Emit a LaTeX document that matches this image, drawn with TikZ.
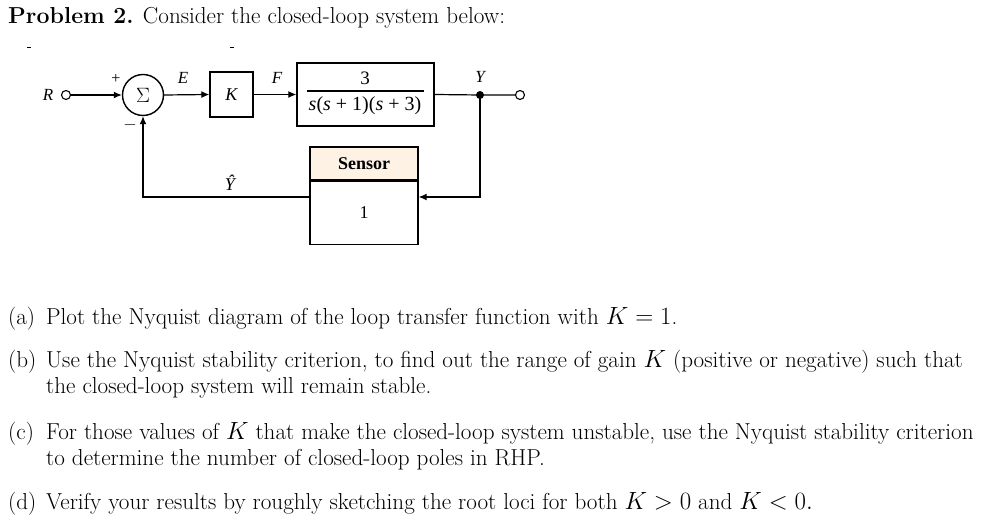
\documentclass[tikz,border=0pt]{standalone}
\usepackage{fontspec}
\newfontfamily\dia{Liberation Serif}
\usetikzlibrary{arrows.meta}
\begin{document}
\begin{tikzpicture}[x=1pt,y=-1pt,
  txt/.style={anchor=base west,inner sep=0pt,font=\fontsize{23.1}{27}\selectfont},
  blk/.style={draw,line width=1.4pt,inner sep=0pt},
  lab/.style={font=\dia\itshape\fontsize{17}{18}\selectfont,inner sep=0pt},
  sig/.style={line width=1.2pt,-{Latex[length=8pt,width=7pt]}},
  wire/.style={line width=1.2pt}]
\useasboundingbox (0,0) rectangle (991,526);
\node[txt] (t0) at (8,24) {\textbf{Problem 2.} Consider the closed-loop system below:};
\node[txt] (la) at (8,325) {(a)};
\node[txt] (ta) at (46,325) {Plot the Nyquist diagram of the loop transfer function with $K=1$.};
\node[txt] (lb) at (8,368) {(b)};
\node[txt] (tb) at (46,368) {Use the Nyquist stability criterion, to find out the range of gain $K$ (positive or negative) such that};
\node[txt] (tb2) at (46,394) {the closed-loop system will remain stable.};
\node[txt] (lc) at (8,439) {(c)};
\node[txt] (tc) at (46,439) {For those values of $K$ that make the closed-loop system unstable, use the Nyquist stability criterion};
\node[txt] (tc2) at (46,465) {to determine the number of closed-loop poles in RHP.};
\node[txt] (ld) at (8,509) {(d)};
\node[txt] (td) at (46,509) {Verify your results by roughly sketching the root loci for both $K>0$ and $K<0.$};
% diagram
\draw[line width=1pt] (27,48)--(31,48) (230,48)--(234,48);
\node[lab] (R) at (48,95) {R};
\node[draw,circle,minimum size=9pt,inner sep=0pt,line width=1.1pt] (rin) at (66,95) {};
\node[draw,circle,minimum size=41pt,inner sep=0pt,line width=1.4pt,font=\fontsize{20}{22}\selectfont] (sum) at (143,95) {$\Sigma$};
\node[lab,font=\dia\fontsize{16}{16}\selectfont] (plus) at (116,79) {+};
\node[lab,font=\fontsize{16}{16}\selectfont] (minus) at (130,125) {$-$};
\node[blk,minimum width=43pt,minimum height=45pt,font=\dia\itshape\fontsize{18}{18}\selectfont] (K) at (231.5,94.5) {K};
\node[blk,minimum width=137pt,minimum height=63pt] (G) at (365.5,94.5) {};
\node[inner sep=0pt,font=\dia\fontsize{19}{19}\selectfont] (num) at (365,78) {3};
\draw[wire] (307,91)--(424,91);
\node[inner sep=0pt,font=\dia\fontsize{20}{20}\selectfont] (den) at (365,106) {\textit{s}(\textit{s} + 1)(\textit{s} + 3)};
\node[lab] (E) at (183,78) {E};
\node[lab] (F) at (277,78) {F};
\node[lab] (Y) at (480,77) {Y};
\node[circle,fill,minimum size=8pt,inner sep=0pt] (dot) at (480,95) {};
\node[draw,circle,minimum size=9pt,inner sep=0pt,line width=1.1pt] (out) at (520,95) {};
\node[blk,fill=black!5!orange!10,minimum width=108pt,minimum height=33pt,font=\dia\bfseries\fontsize{18}{18}\selectfont] (sh) at (364,163.5) {Sensor};
\node[blk,minimum width=108pt,minimum height=63pt,anchor=north,font=\dia\fontsize{18}{18}\selectfont] (sb) at (sh.south) {1};
\node[lab,font=\dia\itshape\fontsize{18}{18}\selectfont] (Yh) at (230,183) {\^{Y}};
\draw[sig] (rin.east)--(sum.west);
\draw[sig] (sum.east)--(K.west);
\draw[sig] (K.east)--(G.west);
\draw[wire] (G.east)--(dot.center)--(out.west);
\coordinate (fb1) at (480,197);
\coordinate (fb2) at (143,197);
\draw[sig] (dot.center)--(fb1)--(sb.east|-fb1);
\draw[sig] (sb.west|-fb1)--(fb2)--(sum.south);
\end{tikzpicture}
\end{document}
